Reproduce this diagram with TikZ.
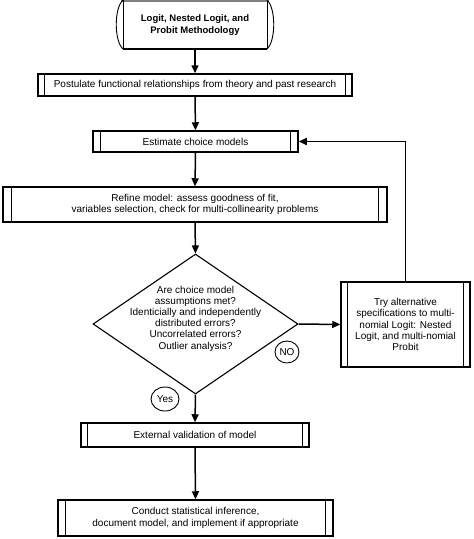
\documentclass[tikz,border=0pt]{standalone}
\usepackage{fontspec}
\setmainfont{Liberation Sans}
\usetikzlibrary{arrows.meta,shapes.geometric}
\begin{document}
\begin{tikzpicture}[x=1pt,y=-1pt,
  every node/.style={font=\fontsize{10}{11.2}\selectfont},
  procbox/.style={draw,line width=1.5pt,rectangle,inner sep=0pt,align=center},
  decbox/.style={draw,line width=1.1pt,diamond,inner sep=0pt,align=center},
  lbl/.style={draw,line width=0.9pt,ellipse,inner sep=0pt},
  flow/.style={line width=1.5pt,-{Triangle[length=8pt,width=7pt]}},
  innerline/.style={line width=1pt}]
\useasboundingbox (0,0) rectangle (474,539);
% terminator
\draw[line width=1.5pt] (123,49) -- (267,49);
\draw[line width=2pt,gray] (121,0.5) -- (269,0.5);
\draw[line width=1pt] (123,0) -- (123,49);
\draw[line width=1pt] (267,0) -- (267,49);
\draw[line width=0.9pt] (123,0) .. controls (114,8) and (114,41) .. (123,49);
\draw[line width=0.9pt] (267,0) .. controls (276,8) and (276,41) .. (267,49);
\node[align=center,font=\fontsize{9.5}{11.2}\selectfont\bfseries] (t) at (195,25) {Logit, Nested Logit, and\\Probit Methodology};
\coordinate (tb) at (195,49);
% boxes
\node[procbox,minimum width=314pt,minimum height=22pt] (b2) at (195,85) {Postulate functional relationships from theory and past research};
\node[procbox,minimum width=205pt,minimum height=21pt] (b3) at (195.5,141.5) {Estimate choice models};
\node[procbox,minimum width=384pt,minimum height=35pt] (b4) at (195,204.5) {Refine model: assess goodness of fit,\\variables selection, check for multi-collinearity problems};
\node[decbox,minimum width=205pt,minimum height=140pt] (d) at (195.5,324) {};
\node[align=center] (dt) at (195.5,318.5) {Are choice model\\assumptions met?\\Identicially and independently\\distributed errors?\\Uncorrelated errors?\\Outlier analysis?};
\node[procbox,minimum width=129pt,minimum height=85pt] (alt) at (405.5,324.5) {Try alternative\\specifications to multi-\\nomial Logit: Nested\\Logit, and multi-nomial\\Probit};
\node[procbox,minimum width=228pt,minimum height=24pt] (b5) at (195,435) {External validation of model};
\node[procbox,minimum width=275pt,minimum height=36pt] (b6) at (195.5,518) {Conduct statistical inference,\\document model, and implement if appropriate};
% inner lines
\foreach \n/\s in {b2/7,b3/8,b4/9,alt/7,b5/7,b6/8}{
  \draw[innerline] ([xshift=\s pt]\n.north west) -- ([xshift=\s pt]\n.south west);
  \draw[innerline] ([xshift=-\s pt]\n.north east) -- ([xshift=-\s pt]\n.south east);
}
% labels
\node[lbl,minimum width=24pt,minimum height=22pt] (no) at (287,352) {NO};
\node[lbl,minimum width=28pt,minimum height=24pt] (yes) at (165,399) {Yes};
% connectors
\draw[flow] (tb) -- (b2.north);
\draw[flow] (b2.south) -- (b3.north);
\draw[flow] (b3.south) -- (b4.north);
\draw[flow] (b4.south) -- (d.north);
\draw[flow] (d.east) -- (alt.west);
\draw[flow] (alt.north) |- (b3.east);
\draw[flow] (d.south) -- (b5.north);
\draw[flow] (b5.south) -- (b6.north);
\end{tikzpicture}
\end{document}
